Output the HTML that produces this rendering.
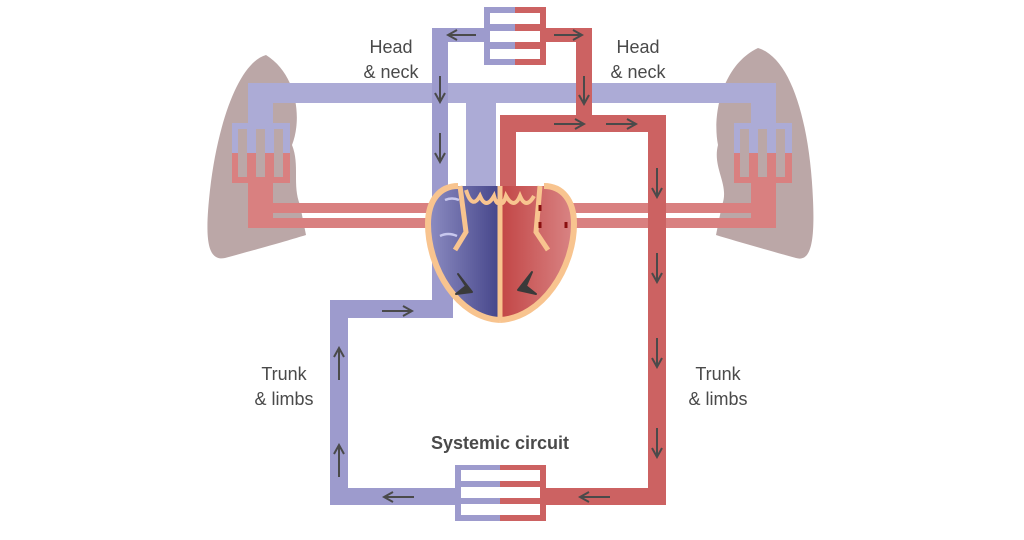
<!DOCTYPE html>
<html><head><meta charset="utf-8"><style>
html,body{margin:0;padding:0;background:#fff;width:1024px;height:540px;overflow:hidden}
svg{display:block}
text{font-family:"Liberation Sans",sans-serif;fill:#4a4a4a}
</style></head><body>
<svg width="1024" height="540" viewBox="0 0 1024 540">
<defs>
<linearGradient id="gb" x1="0" x2="1"><stop offset="0" stop-color="#8d8dc2"/><stop offset="1" stop-color="#45458a"/></linearGradient>
<linearGradient id="gr" x1="0" x2="1"><stop offset="0" stop-color="#c24545"/><stop offset="1" stop-color="#d98585"/></linearGradient>
<marker id="ah" markerWidth="12" markerHeight="12" refX="10" refY="6" orient="auto" markerUnits="userSpaceOnUse"><path d="M1,1 L10,6 L1,11" fill="none" stroke="#4a4a4a" stroke-width="2"/></marker>
</defs>
<!-- lungs -->
<path d="M266,55 C240,62 218,120 210,190 C205,235 206,262 225,258 C262,248 290,240 306,235 L300,205 C292,185 300,165 292,145 C302,120 298,75 266,55Z" fill="#bba7a7"/>
<path d="M758,48 C792,58 810,125 813,200 C815,245 810,262 796,258 C760,248 732,240 716,235 L722,205 C730,185 712,168 718,145 C712,115 722,65 758,48Z" fill="#bba7a7"/>
<!-- pulmonary red veins -->
<g fill="#d98080">
<rect x="248" y="183" width="25" height="45"/>
<rect x="248" y="203" width="190" height="10"/>
<rect x="248" y="218" width="190" height="10"/>
<rect x="751" y="183" width="25" height="45"/>
<rect x="570" y="203" width="206" height="10"/>
<rect x="570" y="218" width="206" height="10"/>
</g>
<!-- pulmonary blue arteries -->
<g fill="#acabd6">
<rect x="248" y="83" width="528" height="20"/>
<rect x="248" y="83" width="25" height="40"/>
<rect x="751" y="83" width="25" height="40"/>
<rect x="466" y="83" width="30" height="110"/>
</g>
<g fill="#bba7a7">
<rect x="238" y="129" width="9" height="48"/><rect x="256" y="129" width="9" height="48"/><rect x="274" y="129" width="9" height="48"/>
<rect x="740" y="129" width="9" height="48"/><rect x="758" y="129" width="9" height="48"/><rect x="776" y="129" width="9" height="48"/>
</g>
<g>
<path d="M734,123h58v30h-58z M740,129v24h9v-24z M758,129v24h9v-24z M776,129v24h9v-24z" fill="#acabd6" fill-rule="evenodd"/>
<path d="M734,153h58v30h-58z M740,153v24h9v-24z M758,153v24h9v-24z M776,153v24h9v-24z" fill="#d98080" fill-rule="evenodd"/>
<path d="M232,123h58v30h-58z M238,129v24h9v-24z M256,129v24h9v-24z M274,129v24h9v-24z" fill="#acabd6" fill-rule="evenodd"/>
<path d="M232,153h58v30h-58z M238,153v24h9v-24z M256,153v24h9v-24z M274,153v24h9v-24z" fill="#d98080" fill-rule="evenodd"/>
</g>
<!-- systemic veins (blue) -->
<g fill="#9d9bcd">
<rect x="432" y="28" width="16" height="280"/>
<rect x="432" y="28" width="56" height="14"/>
<rect x="437" y="190" width="16" height="128"/>
<rect x="330" y="300" width="123" height="18"/>
<rect x="330" y="300" width="18" height="205"/>
<rect x="330" y="488" width="130" height="17"/>
</g>
<!-- systemic arteries (red) -->
<g fill="#cc6262">
<rect x="500" y="115" width="16" height="80"/>
<rect x="500" y="115" width="166" height="17"/>
<rect x="648" y="115" width="18" height="390"/>
<rect x="540" y="488" width="126" height="17"/>
<rect x="576" y="28" width="16" height="100"/>
<rect x="540" y="28" width="52" height="14"/>
</g>
<!-- top capillary box -->
<path d="M484,7h31v58h-31z M490,13v11h25v-11z M490,31v11h25v-11z M490,49v10h25v-10z" fill="#9d9bcd" fill-rule="evenodd"/>
<path d="M515,7h31v58h-31z M515,13v11h25v-11z M515,31v11h25v-11z M515,49v10h25v-10z" fill="#cc6262" fill-rule="evenodd"/>
<!-- bottom capillary box -->
<path d="M455,465h45v56h-45z M461,470v11h39v-11z M461,487v11h39v-11z M461,504v11h39v-11z" fill="#9d9bcd" fill-rule="evenodd"/>
<path d="M500,465h46v56h-46z M500,470v11h40v-11z M500,487v11h40v-11z M500,504v11h40v-11z" fill="#cc6262" fill-rule="evenodd"/>
<!-- heart -->
<g>
<path d="M500,320 C458,318 428,268 428,224 C428,200 440,186 458,186 L500,186 Z" fill="url(#gb)"/>
<path d="M500,320 C542,318 574,268 574,224 C574,200 562,186 544,186 L500,186 Z" fill="url(#gr)"/>
<path d="M500,320 C458,318 428,268 428,224 C428,200 440,186 458,186 M500,320 C542,318 574,268 574,224 C574,200 562,186 544,186" fill="none" stroke="#f8c48f" stroke-width="6"/>
<path d="M460,186 L466,232 L455,250 M540,186 L536,232 L548,250 M500,186 V320" fill="none" stroke="#f8c48f" stroke-width="5"/>
<path d="M466,190 q6,20 14,6 q6,14 14,0 q4,14 6,0 q2,14 6,0 q8,14 14,0 q6,14 14,0" fill="none" stroke="#f8c48f" stroke-width="4"/>
<path d="M445,200 q7,-3 14,0 M440,236 q8,-4 17,0" stroke="#c8c8ee" stroke-width="2.5" fill="none"/>
<path d="M540,205 v6 M540,222 v6 M566,222 v6" stroke="#8a1010" stroke-width="3"/>
<path d="M472,292 L458,274 L466,286 L456,294 Z" fill="#3a3a3a" stroke="#3a3a3a" stroke-width="2" stroke-linejoin="round"/>
<path d="M518,290 L532,272 L526,286 L536,294 Z" fill="#3a3a3a" stroke="#3a3a3a" stroke-width="2" stroke-linejoin="round"/>
</g>
<!-- arrows -->
<g stroke="#4a4a4a" stroke-width="2" marker-end="url(#ah)">
<line x1="476" y1="35" x2="448" y2="35"/>
<line x1="554" y1="35" x2="582" y2="35"/>
<line x1="440" y1="76" x2="440" y2="102"/>
<line x1="440" y1="133" x2="440" y2="162"/>
<line x1="584" y1="76" x2="584" y2="104"/>
<line x1="554" y1="124" x2="584" y2="124"/>
<line x1="606" y1="124" x2="636" y2="124"/>
<line x1="657" y1="168" x2="657" y2="197"/>
<line x1="657" y1="253" x2="657" y2="282"/>
<line x1="657" y1="338" x2="657" y2="367"/>
<line x1="657" y1="428" x2="657" y2="457"/>
<line x1="610" y1="497" x2="580" y2="497"/>
<line x1="414" y1="497" x2="384" y2="497"/>
<line x1="346" y1="477" x2="346" y2="445" transform="translate(-7,0)"/>
<line x1="346" y1="380" x2="346" y2="348" transform="translate(-7,0)"/>
<line x1="382" y1="311" x2="412" y2="311"/>
</g>
<!-- labels -->
<g font-size="18">
<text x="391" y="53" text-anchor="middle">Head</text>
<text x="391" y="78" text-anchor="middle">&amp; neck</text>
<text x="638" y="53" text-anchor="middle">Head</text>
<text x="638" y="78" text-anchor="middle">&amp; neck</text>
<text x="284" y="380" text-anchor="middle">Trunk</text>
<text x="284" y="405" text-anchor="middle">&amp; limbs</text>
<text x="718" y="380" text-anchor="middle">Trunk</text>
<text x="718" y="405" text-anchor="middle">&amp; limbs</text>
</g>
<text x="500" y="449" text-anchor="middle" font-size="18" font-weight="bold" fill="#404040">Systemic circuit</text>
</svg>
</body></html>
